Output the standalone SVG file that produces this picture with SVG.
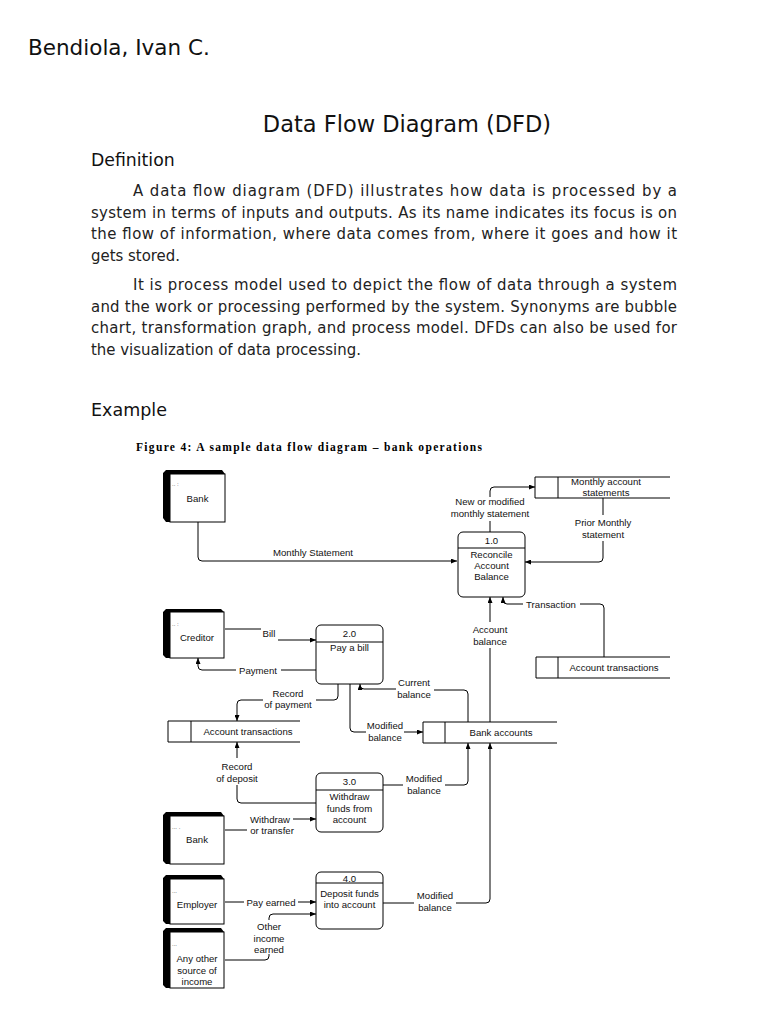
<svg xmlns="http://www.w3.org/2000/svg" width="768" height="1024" viewBox="0 0 768 1024">
<style>
.hd{font-family:"DejaVu Sans","Noto Sans",sans-serif;fill:#111}
.p{font-family:"DejaVu Sans Condensed","DejaVu Sans","Noto Sans",sans-serif;font-stretch:condensed;font-size:16.6px;fill:#222}
.cap{font-family:"Liberation Serif","DejaVu Serif",serif;font-size:11.5px;font-weight:bold;fill:#000}
.t{font-family:"Liberation Sans",Arial,sans-serif;font-size:9.6px;fill:#111;text-anchor:middle}
.id{font-family:"Liberation Sans",Arial,sans-serif;font-size:6px;fill:#333}
.ln{fill:none;stroke:#000;stroke-width:1}
.box{fill:#fff;stroke:#000;stroke-width:1}
.sh{fill:#000}
.st{fill:none;stroke:#000;stroke-width:1}
</style>
<defs>
<marker id="ah" markerWidth="6" markerHeight="5" refX="6" refY="2.5" orient="auto" markerUnits="userSpaceOnUse"><path d="M0,0 L6,2.5 L0,5 Z" fill="#000"/></marker>
</defs>
<rect width="768" height="1024" fill="#fff"/>

<text class="hd" x="28" y="55" font-size="21.5">Bendiola, Ivan C.</text>
<text class="hd" x="407" y="132" font-size="22.5" text-anchor="middle">Data Flow Diagram (DFD)</text>
<text class="hd" x="91" y="166" font-size="17.3">Definition</text>
<text class="p" x="133" y="196" textLength="544" lengthAdjust="spacing">A data flow diagram (DFD) illustrates how data is processed by a</text>
<text class="p" x="91" y="217.5" textLength="586" lengthAdjust="spacing">system in terms of inputs and outputs. As its name indicates its focus is on</text>
<text class="p" x="91" y="239" textLength="586" lengthAdjust="spacing">the flow of information, where data comes from, where it goes and how it</text>
<text class="p" x="91" y="260.5">gets stored.</text>
<text class="p" x="133" y="290" textLength="544" lengthAdjust="spacing">It is process model used to depict the flow of data through a system</text>
<text class="p" x="91" y="311.5" textLength="586" lengthAdjust="spacing">and the work or processing performed by the system. Synonyms are bubble</text>
<text class="p" x="91" y="333" textLength="586" lengthAdjust="spacing">chart, transformation graph, and process model. DFDs can also be used for</text>
<text class="p" x="91" y="354.5">the visualization of data processing.</text>
<text class="hd" x="91" y="416" font-size="17.5">Example</text>
<text class="cap" x="136" y="451" textLength="346" lengthAdjust="spacing">Figure 4:  A sample data flow diagram – bank operations</text>

<g id="connectors">
<path class="ln" d="M198,522 V557 Q198,561 202,561 H457" marker-end="url(#ah)"/>
<text class="t" x="313" y="556">Monthly Statement</text>

<path class="ln" d="M490,532 V521 M490,497 V491 Q490,487 494,487 H535" marker-end="url(#ah)"/>
<text class="t" x="490" y="505">New or modified</text>
<text class="t" x="490" y="517">monthly statement</text>

<path class="ln" d="M603,498 V515 M603,541 V558 Q603,562 599,562 H525" marker-end="url(#ah)"/>
<text class="t" x="603" y="526">Prior Monthly</text>
<text class="t" x="603" y="538">statement</text>

<path class="ln" d="M604,657 V608 Q604,604 600,604 H580 M523,604 H507 Q503,604 503,600 V597" marker-end="url(#ah)"/>
<text class="t" x="551" y="607.5">Transaction</text>

<path class="ln" d="M490,722 V648 M490,622 V597" marker-end="url(#ah)"/>
<text class="t" x="490" y="633">Account</text>
<text class="t" x="490" y="644.5">balance</text>

<path class="ln" d="M468,722 V694 Q468,690 464,690 H434 M396,689 H364 Q360,689 360,685 V684" marker-end="url(#ah)"/>
<text class="t" x="414" y="686">Current</text>
<text class="t" x="414" y="697.5">balance</text>

<path class="ln" d="M350,684 V728 Q350,732 354,732 H366 M404,732 H423" marker-end="url(#ah)"/>
<text class="t" x="385" y="729">Modified</text>
<text class="t" x="385" y="740.5">balance</text>

<path class="ln" d="M316,670 H281 M236,670 H202 Q198,670 198,666 V658" marker-end="url(#ah)"/>
<text class="t" x="258" y="673.5">Payment</text>

<path class="ln" d="M225,629 H261 M278,640 H316" marker-end="url(#ah)"/>
<text class="t" x="269" y="637">Bill</text>

<path class="ln" d="M338,684 V696 Q338,700 334,700 H316 M263,700 H241 Q237,700 237,704 V721" marker-end="url(#ah)"/>
<text class="t" x="288" y="697">Record</text>
<text class="t" x="288" y="708">of payment</text>

<path class="ln" d="M316,803 H241 Q237,803 237,799 V785 M237,758 V742" marker-end="url(#ah)"/>
<text class="t" x="237" y="770">Record</text>
<text class="t" x="237" y="781.5">of deposit</text>

<path class="ln" d="M383,785 H403 M445,785 H464 Q468,785 468,781 V743" marker-end="url(#ah)"/>
<text class="t" x="424" y="782">Modified</text>
<text class="t" x="424" y="793.5">balance</text>

<path class="ln" d="M225,830 H247 M293,819 H316" marker-end="url(#ah)"/>
<text class="t" x="270" y="823">Withdraw</text>
<text class="t" x="272" y="834">or transfer</text>

<path class="ln" d="M225,902 H244 M298,902 H316" marker-end="url(#ah)"/>
<text class="t" x="271" y="905.5">Pay earned</text>

<path class="ln" d="M225,960 H265 Q269,960 269,956 V954 M269,920 V918 Q269,914 273,914 H316" marker-end="url(#ah)"/>
<text class="t" x="269" y="930">Other</text>
<text class="t" x="269" y="941.5">income</text>
<text class="t" x="269" y="953">earned</text>

<path class="ln" d="M383,903 H414 M456,903 H486 Q490,903 490,899 V743" marker-end="url(#ah)"/>
<text class="t" x="435" y="899">Modified</text>
<text class="t" x="435" y="910.5">balance</text>
</g>

<g id="p1">
<rect class="box" x="458" y="532" width="67" height="65" rx="5"/>
<line class="st" x1="458" y1="548" x2="525" y2="548"/>
<text class="t" x="491.5" y="543.5">1.0</text>
<text class="t" x="491.5" y="558">Reconcile</text>
<text class="t" x="491.5" y="569">Account</text>
<text class="t" x="491.5" y="580">Balance</text>
</g>
<g id="p2">
<rect class="box" x="316" y="625" width="67" height="59" rx="5"/>
<line class="st" x1="316" y1="642" x2="383" y2="642"/>
<text class="t" x="349.5" y="637">2.0</text>
<text class="t" x="349.5" y="651">Pay a bill</text>
</g>
<g id="p3">
<rect class="box" x="316" y="773" width="67" height="59" rx="5"/>
<line class="st" x1="316" y1="790" x2="383" y2="790"/>
<text class="t" x="349.5" y="785">3.0</text>
<text class="t" x="349.5" y="800">Withdraw</text>
<text class="t" x="349.5" y="811.5">funds from</text>
<text class="t" x="349.5" y="823">account</text>
</g>
<g id="p4">
<rect class="box" x="316" y="872" width="67" height="57" rx="5"/>
<line class="st" x1="316" y1="883" x2="383" y2="883"/>
<text class="t" x="349.5" y="881.5">4.0</text>
<text class="t" x="349.5" y="897">Deposit funds</text>
<text class="t" x="349.5" y="908">into account</text>
</g>

<g id="s-monthly">
<path class="st" d="M670,477 H535 V498 H670 M558,477 V498"/>
<text class="t" x="606" y="484.5">Monthly account</text>
<text class="t" x="606" y="496">statements</text>
</g>
<g id="s-acct-right">
<path class="st" d="M670,657 H536 V678 H670 M558,657 V678"/>
<text class="t" x="614" y="671">Account transactions</text>
</g>
<g id="s-bank-accounts">
<path class="st" d="M557,722 H423 V743 H557 M445,722 V743"/>
<text class="t" x="501" y="735.5">Bank accounts</text>
</g>
<g id="s-acct-left">
<path class="st" d="M300,721 H168 V742 H300 M191,721 V742"/>
<text class="t" x="248" y="735">Account transactions</text>
</g>

<g id="e-bank1">
<polygon class="sh" points="163,473 166,470 222,470 225,474 170,474 170,522 166,522 163,518"/>
<rect class="box" x="170" y="474" width="55" height="48"/>
<text class="id" x="172" y="486">.. :</text>
<text class="t" x="197.5" y="502">Bank</text>
</g>
<g id="e-creditor">
<polygon class="sh" points="163,612 166,609 221,609 224,612 170,612 170,658 166,658 163,655"/>
<rect class="box" x="170" y="612" width="54" height="46"/>
<text class="id" x="172" y="626">.. :</text>
<text class="t" x="197" y="641">Creditor</text>
</g>
<g id="e-bank2">
<polygon class="sh" points="163,815 166,812 221,812 224,816 170,816 170,864 166,864 163,861"/>
<rect class="box" x="170" y="816" width="54" height="48"/>
<text class="id" x="172" y="829">... .</text>
<text class="t" x="197" y="843">Bank</text>
</g>
<g id="e-employer">
<polygon class="sh" points="163,878 166,875 221,875 224,879 170,879 170,924 166,924 163,921"/>
<rect class="box" x="170" y="879" width="54" height="45"/>
<text class="id" x="172" y="893">...</text>
<text class="t" x="197" y="908">Employer</text>
</g>
<g id="e-other">
<polygon class="sh" points="163,931 166,928 221,928 224,932 170,932 170,988 166,988 163,985"/>
<rect class="box" x="170" y="932" width="54" height="56"/>
<text class="id" x="172" y="946">...</text>
<text class="t" x="197" y="962">Any other</text>
<text class="t" x="197" y="973.5">source of</text>
<text class="t" x="197" y="985">income</text>
</g>
</svg>
